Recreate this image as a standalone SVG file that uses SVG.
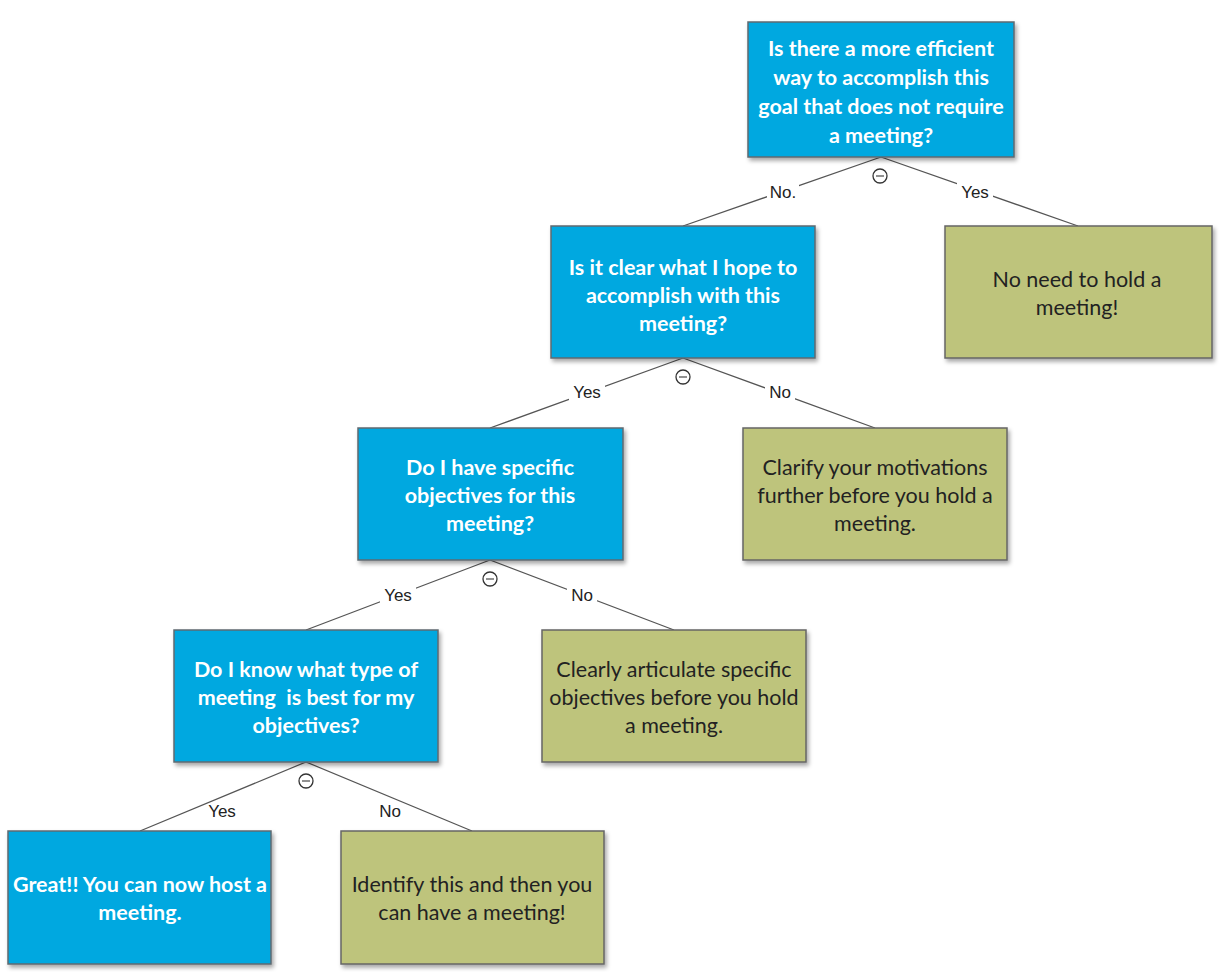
<svg xmlns="http://www.w3.org/2000/svg" width="1228" height="972" viewBox="0 0 1228 972">
<defs>
<filter id="sh" x="-5%" y="-5%" width="115%" height="120%">
<feDropShadow dx="2" dy="3" stdDeviation="2" flood-color="#000" flood-opacity="0.35"/>
</filter>
<style>
.q{fill:#00A8E0;stroke:#5f6a70;stroke-width:1.5;filter:url(#sh)}
.a{fill:#BEC47C;stroke:#666;stroke-width:1.5;filter:url(#sh)}
.qt{font-family:Lato,"Open Sans",sans-serif;font-weight:bold;font-size:21.5px;fill:#fff;text-anchor:middle}
.at{font-family:Lato,"Open Sans",sans-serif;font-size:21.5px;fill:#222;text-anchor:middle}
.ln{stroke:#555;stroke-width:1.3;fill:none}
.lb{font-family:"Liberation Sans",Arial,sans-serif;font-size:17px;fill:#222;text-anchor:middle}
.lbg{fill:#fff}
.col{fill:#fff;stroke:#333;stroke-width:1.3}
</style>
</defs>
<rect width="1228" height="972" fill="#fff"/>
<g id="connectors">
<path class="ln" d="M881 157 L683 226 M881 157 L1078 226"/>
<path class="ln" d="M683 358 L490 428 M683 358 L875 428"/>
<path class="ln" d="M490 560 L306 630 M490 560 L674 630"/>
<path class="ln" d="M306 762 L140 831 M306 762 L472 831"/>
<rect class="lbg" x="767" y="182" width="32" height="20"/>
<text class="lb" x="783" y="198">No.</text>
<rect class="lbg" x="957" y="182" width="36" height="20"/>
<text class="lb" x="975" y="198">Yes</text>
<rect class="lbg" x="569" y="382" width="36" height="20"/>
<text class="lb" x="587" y="398">Yes</text>
<rect class="lbg" x="765" y="382" width="30" height="20"/>
<text class="lb" x="780" y="398">No</text>
<rect class="lbg" x="380" y="585" width="36" height="20"/>
<text class="lb" x="398" y="601">Yes</text>
<rect class="lbg" x="567" y="585" width="30" height="20"/>
<text class="lb" x="582" y="601">No</text>
<text class="lb" x="222" y="817">Yes</text>
<text class="lb" x="390" y="817">No</text>
<g id="collapse-markers">
<circle class="col" cx="880" cy="176" r="7"/><path class="ln" stroke="#333" d="M876 176 H884"/>
<circle class="col" cx="683" cy="377" r="7"/><path class="ln" stroke="#333" d="M679 377 H687"/>
<circle class="col" cx="490" cy="579" r="7"/><path class="ln" stroke="#333" d="M486 579 H494"/>
<circle class="col" cx="306" cy="781" r="7"/><path class="ln" stroke="#333" d="M302 781 H310"/>
</g>
</g>
<g id="n1">
<rect class="q" x="748" y="22" width="266" height="135"/>
<text class="qt"><tspan x="881" y="56">Is there a more efficient</tspan><tspan x="881" y="85">way to accomplish this</tspan><tspan x="881" y="114">goal that does not require</tspan><tspan x="881" y="143">a meeting?</tspan></text>
</g>
<g id="n2">
<rect class="q" x="551" y="226" width="264" height="132"/>
<text class="qt"><tspan x="683" y="275">Is it clear what I hope to</tspan><tspan x="683" y="303">accomplish with this</tspan><tspan x="683" y="331">meeting?</tspan></text>
</g>
<g id="n3">
<rect class="a" x="945" y="226" width="267" height="132"/>
<text class="at"><tspan x="1077" y="287">No need to hold a</tspan><tspan x="1077" y="315">meeting!</tspan></text>
</g>
<g id="n4">
<rect class="q" x="358" y="428" width="265" height="132"/>
<text class="qt"><tspan x="490" y="475">Do I have specific</tspan><tspan x="490" y="503">objectives for this</tspan><tspan x="490" y="531">meeting?</tspan></text>
</g>
<g id="n5">
<rect class="a" x="743" y="428" width="264" height="132"/>
<text class="at"><tspan x="875" y="475">Clarify your motivations</tspan><tspan x="875" y="503">further before you hold a</tspan><tspan x="875" y="531">meeting.</tspan></text>
</g>
<g id="n6">
<rect class="q" x="174" y="630" width="264" height="132"/>
<text class="qt"><tspan x="306" y="677">Do I know what type of</tspan><tspan x="306" y="705" xml:space="preserve">meeting  is best for my</tspan><tspan x="306" y="733">objectives?</tspan></text>
</g>
<g id="n7">
<rect class="a" x="542" y="630" width="264" height="132"/>
<text class="at"><tspan x="674" y="677">Clearly articulate specific</tspan><tspan x="674" y="705">objectives before you hold</tspan><tspan x="674" y="733">a meeting.</tspan></text>
</g>
<g id="n8">
<rect class="q" x="8" y="831" width="263" height="133"/>
<text class="qt"><tspan x="140" y="892">Great!! You can now host a</tspan><tspan x="140" y="920">meeting.</tspan></text>
</g>
<g id="n9">
<rect class="a" x="341" y="831" width="263" height="133"/>
<text class="at"><tspan x="472" y="892">Identify this and then you</tspan><tspan x="472" y="920">can have a meeting!</tspan></text>
</g>
</svg>
